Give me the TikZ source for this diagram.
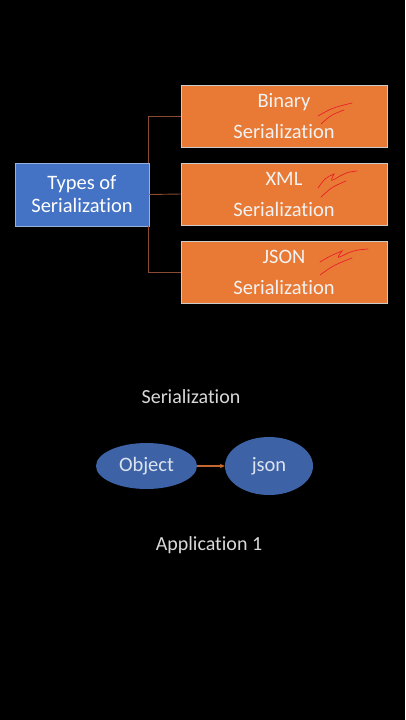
\documentclass[tikz,border=0pt]{standalone}
\usepackage{fontspec}
\setmainfont{Carlito}[Ligatures=NoCommon]
\usetikzlibrary{shapes.geometric,arrows.meta,positioning}
\definecolor{bluebox}{HTML}{4472C4}
\definecolor{orangebox}{HTML}{E97A35}
\definecolor{ovalblue}{HTML}{3D62A6}
\definecolor{linkbrown}{HTML}{8A4B32}
\definecolor{pen}{HTML}{E8202A}
\definecolor{paletext}{HTML}{DCE3F0}

\begin{document}
\begin{tikzpicture}[x=1pt, y=-1pt,
    topic/.style={rectangle, draw=bluebox!55!white, line width=0.8pt, fill=bluebox, minimum width=134pt, minimum height=63pt, align=center, text=white, font=\fontsize{20.5}{23}\selectfont, inner sep=2pt},
    kind/.style={rectangle, draw=white!80!black, line width=0.8pt, fill=orangebox, minimum width=206pt, minimum height=62pt, align=center, text=white!95!black, font=\fontsize{20.5}{31}\selectfont, inner sep=2pt},
    oval/.style={ellipse, fill=ovalblue, text=paletext, font=\fontsize{20.5}{23}\selectfont, inner sep=0pt},
    caption/.style={text=white!85!black, font=\fontsize{20}{23}\selectfont},
    link/.style={draw=linkbrown, line width=0.9pt},
    scribble/.style={draw=pen, line width=0.7pt, line cap=round}
]
    % Background
    \fill[black] (0,0) rectangle (405,720);
    \useasboundingbox (0,0) rectangle (405,720);

    % Types of serialization
    \node[topic] (types) at (82,194.5) {Types of\\Serialization};
    \node[kind] (bin) at (284,116) {Binary\\Serialization};
    \node[kind] (xml) at (284,194) {XML\\Serialization};
    \node[kind] (json) at (284,272) {JSON\\Serialization};

    % Connections
    \draw[link] (types.north east) ++(-1,0) |- (bin.west);
    \draw[link] (types.east) -- (xml.west);
    \draw[link] (types.south east) ++(-1,0) |- (json.west);

    % Pen marks
    \draw[scribble] (318,116) .. controls (332,108) .. (352,103);
    \draw[scribble] (321,124) .. controls (331,115) .. (344,110);
    \draw[scribble] (318,188) .. controls (325,178) .. (334,174) .. controls (330,182) .. (340,176) .. controls (348,172) .. (357,171);
    \draw[scribble] (321,197) .. controls (332,187) .. (346,181);
    \draw[scribble] (320,262) .. controls (330,256) .. (342,251) .. controls (336,259) .. (348,253) .. controls (356,250) .. (368,249);
    \draw[scribble] (320,275) .. controls (334,265) .. (352,258);

    % Serialization example
    \node[caption] (title) at (191,397) {Serialization};
    \node[oval, minimum width=101pt, minimum height=46pt] (obj) at (146.5,466) {Object};
    \node[oval, minimum width=88pt, minimum height=58pt] (out) at (269,466) {json};
    \draw[link, draw=orangebox!85!black, line width=1.2pt, -{Stealth[length=5pt,width=4.5pt]}] (obj.east) -- (out.west);
    \node[caption] (app) at (209,545) {Application 1};
\end{tikzpicture}
\end{document}
